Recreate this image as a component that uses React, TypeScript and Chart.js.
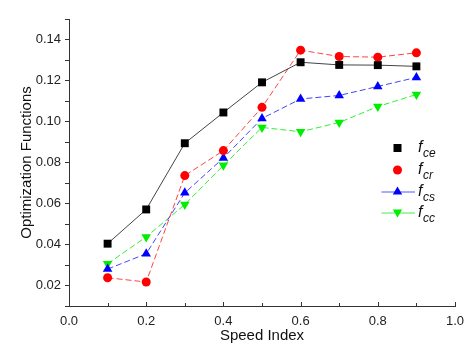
import React, { useEffect, useRef } from "react";
import { Chart, registerables } from "chart.js";

Chart.register(...registerables);

const speedIndex = [0.1, 0.2, 0.3, 0.4, 0.5, 0.6, 0.7, 0.8, 0.9];
const fce = [0.0404, 0.0571, 0.0894, 0.1044, 0.1191, 0.1289, 0.1276, 0.1275, 0.1269];
const fcr = [0.0238, 0.0217, 0.0736, 0.0858, 0.1069, 0.1348, 0.1317, 0.1314, 0.1335];
const fcs = [0.028, 0.0355, 0.0652, 0.0822, 0.1015, 0.111, 0.1127, 0.1171, 0.1215];
const fcc = [0.0306, 0.0437, 0.0595, 0.0786, 0.0971, 0.095, 0.0995, 0.1073, 0.1132];
const seriesNames = ["ce", "cr", "cs", "cc"];
const xTitle = "Speed Index";
const yTitle = "Optimization Functions";

const FONT = "'Liberation Sans', Arial, sans-serif";

const toPts = (ys: number[]) => speedIndex.map((x, i) => ({ x, y: ys[i] }));

const innerTicksPlugin = {
  id: "innerTicks",
  afterDraw(chart: any) {
    const ctx = chart.ctx;
    const xs = chart.scales.x;
    const bottom = chart.chartArea.bottom;
    ctx.save();
    ctx.strokeStyle = "#333";
    ctx.lineWidth = 1;
    xs.ticks.forEach((t: any) => {
      const px = Math.round(xs.getPixelForValue(t.value)) + 0.5;
      const major = Math.round(t.value * 10) % 2 === 0;
      ctx.beginPath();
      ctx.moveTo(px, bottom);
      ctx.lineTo(px, bottom - (major ? 4 : 3));
      ctx.stroke();
    });
    ctx.restore();
  },
};

const legendPlugin = {
  id: "customLegend",
  afterDraw(chart: any) {
    const ctx = chart.ctx;
    const mx = 397.5;
    const ys = [148, 170, 191.5, 212.5];
    const colors = ["#000000", "#ff0000", "#0000ff", "#00ee00"];
    const lineColors = [null, null, "#5555ff", "#44ee44"];
    ctx.save();
    ys.forEach((y, i) => {
      const c = colors[i];
      if (lineColors[i]) {
        ctx.strokeStyle = lineColors[i];
        ctx.lineWidth = 1;
        ctx.beginPath();
        ctx.moveTo(381.5, y + 0.5);
        ctx.lineTo(415, y + 0.5);
        ctx.stroke();
      }
      ctx.fillStyle = c;
      ctx.beginPath();
      if (i === 0) {
        ctx.rect(mx - 4, y - 4, 8, 8);
      } else if (i === 1) {
        ctx.arc(mx, y, 4.5, 0, Math.PI * 2);
      } else if (i === 2) {
        ctx.moveTo(mx, y - 5);
        ctx.lineTo(mx + 4.7, y + 3);
        ctx.lineTo(mx - 4.7, y + 3);
        ctx.closePath();
      } else {
        ctx.moveTo(mx, y + 5);
        ctx.lineTo(mx + 4.7, y - 3);
        ctx.lineTo(mx - 4.7, y - 3);
        ctx.closePath();
      }
      ctx.fill();
      ctx.fillStyle = "#111";
      ctx.textBaseline = "alphabetic";
      ctx.textAlign = "left";
      ctx.font = "italic 16px " + FONT;
      ctx.fillText("f", 418, y + 4);
      ctx.font = "italic 12px " + FONT;
      ctx.fillText(seriesNames[i], 423, y + 9);
    });
    ctx.restore();
  },
};

export default function App() {
  const ref = useRef<HTMLCanvasElement>(null);
  useEffect(() => {
    document.body.style.margin = "0";
    const canvas = ref.current!;
    const chart = new Chart(canvas, {
      type: "line",
      data: {
        datasets: [
          {
            label: "fce",
            data: toPts(fce),
            borderColor: "#444444",
            backgroundColor: "#000000",
            borderWidth: 1,
            pointStyle: "rect",
            pointRadius: 5.6,
            pointBorderWidth: 0,
            pointBackgroundColor: "#000000",
          },
          {
            label: "fcr",
            data: toPts(fcr),
            borderColor: "#ff4444",
            borderDash: [6, 3],
            borderWidth: 1,
            pointStyle: "circle",
            pointRadius: 4.5,
            pointBorderWidth: 0,
            pointBackgroundColor: "#ff0000",
          },
          {
            label: "fcs",
            data: toPts(fcs),
            borderColor: "#4444ff",
            borderDash: [6, 3],
            borderWidth: 1,
            pointStyle: "triangle",
            pointRadius: 5.5,
            pointBorderWidth: 0,
            pointBackgroundColor: "#0000ff",
          },
          {
            label: "fcc",
            data: toPts(fcc),
            borderColor: "#33ee33",
            borderDash: [6, 3],
            borderWidth: 1,
            pointStyle: "triangle",
            pointRotation: 180,
            pointRadius: 5.5,
            pointBorderWidth: 0,
            pointBackgroundColor: "#00ee00",
          },
        ],
      },
      options: {
        animation: false,
        responsive: false,
        layout: { padding: { top: 19, right: 19, left: 0, bottom: 0 } },
        plugins: { legend: { display: false }, tooltip: { enabled: false } },
        scales: {
          x: {
            type: "linear",
            min: 0,
            max: 1.0,
            afterFit: (s: any) => {
              s.height = 50;
            },
            grid: { display: true, drawOnChartArea: false, drawTicks: false },
            border: { display: true, color: "#333", width: 1 },
            ticks: {
              stepSize: 0.1,
              padding: 8,
              color: "#222",
              font: { family: FONT, size: 13 },
              maxRotation: 0,
              autoSkip: false,
              callback: (v: any) =>
                Math.round(v * 10) % 2 === 0 ? Number(v).toFixed(1) : "",
            },
            title: {
              display: true,
              text: xTitle,
              color: "#111",
              font: { family: FONT, size: 15 },
              padding: { top: 0, bottom: 11 },
            },
          },
          y: {
            min: 0.01,
            max: 0.15,
            afterFit: (s: any) => {
              s.width = 69;
            },
            grid: {
              display: true,
              drawOnChartArea: false,
              drawTicks: true,
              tickLength: 4,
              tickColor: "#333",
            },
            border: { display: true, color: "#333", width: 1 },
            ticks: {
              stepSize: 0.01,
              padding: 4,
              color: "#222",
              font: { family: FONT, size: 13 },
              autoSkip: false,
              callback: (v: any) =>
                Math.round(v * 100) % 2 === 0 ? Number(v).toFixed(2) : "",
            },
            title: {
              display: true,
              text: yTitle,
              color: "#111",
              font: { family: FONT, size: 15 },
              padding: { top: 18, bottom: 0 },
            },
          },
        },
      },
      plugins: [innerTicksPlugin, legendPlugin],
    });
    return () => chart.destroy();
  }, []);
  return (
    <canvas
      ref={ref}
      width={474}
      height={356}
      style={{ display: "block", position: "absolute", left: 0, top: 0 }}
    />
  );
}
